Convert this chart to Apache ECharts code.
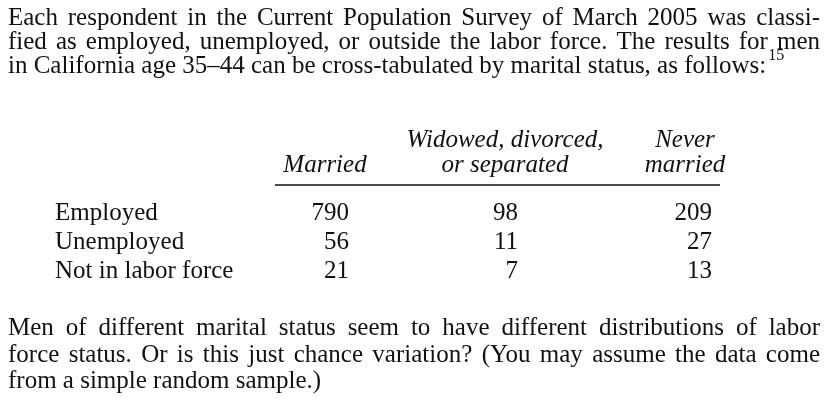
<!DOCTYPE html>
<html>
<head>
<meta charset="utf-8">
<script src="https://cdn.jsdelivr.net/npm/echarts@6/dist/echarts.min.js"></script>
<style>html,body{margin:0;padding:0;background:#fff}#main{width:830px;height:414px}</style>
</head>
<body>
<div id="main"></div>
<script>
var introLines = [
  'Each respondent in the Current Population Survey of March 2005 was classi-',
  'fied as employed, unemployed, or outside the labor force. The results for men',
  'in California age 35\u201344 can be cross-tabulated by marital status, as follows:'
];
var footnote = '15';
var colHeaders = [['Married'], ['Widowed, divorced,', 'or separated'], ['Never', 'married']];
var rowLabels = ['Employed', 'Unemployed', 'Not in labor force'];
var married = [790, 56, 21];
var widowed = [98, 11, 7];
var never = [209, 27, 13];
var outroLines = [
  'Men of different marital status seem to have different distributions of labor',
  'force status. Or is this just chance variation? (You may assume the data come',
  'from a simple random sample.)'
];

var chart = echarts.init(document.getElementById('main'));
var font = '"Liberation Serif", "DejaVu Serif", serif';
var fs = 25;
var elements = [];

function textEl(str, x, y, align, italic, size) {
  return {
    type: 'text', x: x, y: y,
    style: {
      text: str, fill: '#111', font: (italic ? 'italic ' : '') + (size || fs) + 'px ' + font,
      textAlign: align || 'left', textVerticalAlign: 'middle'
    }
  };
}

// measure to justify full lines
var ctx = document.createElement('canvas').getContext('2d');
function justified(str, y, left, right) {
  ctx.font = fs + 'px ' + font;
  var w = ctx.measureText(str).width;
  var words = str.split(' ');
  var gaps = words.length - 1;
  var extra = Math.max(0, (right - left - w) / gaps);
  var space = ctx.measureText(' ').width;
  var x = left;
  words.forEach(function (wd) {
    elements.push(textEl(wd, x, y));
    x += ctx.measureText(wd).width + space + extra;
  });
}

var introY = [18, 42, 66];
justified(introLines[0], introY[0], 8, 820);
justified(introLines[1], introY[1], 8, 820);
ctx.font = fs + 'px ' + font;
elements.push(textEl(introLines[2], 8, introY[2]));
elements.push(textEl(footnote, 8 + ctx.measureText(introLines[2]).width + 2, introY[2] - 10, 'left', false, 16));

// table headers
var headCenters = [325, 505, 685];
colHeaders.forEach(function (h, i) {
  var ys = h.length === 1 ? [165] : [140, 165];
  h.forEach(function (t, j) { elements.push(textEl(t, headCenters[i], ys[j], 'center', true)); });
});
elements.push({ type: 'line', shape: { x1: 275, y1: 185, x2: 720, y2: 185 }, style: { stroke: '#111', lineWidth: 1.5 } });

var rowY = [213, 242, 271];
var colRight = [349, 518, 712];
var cols = [married, widowed, never];
rowLabels.forEach(function (lab, r) {
  elements.push(textEl(lab, 55, rowY[r]));
  cols.forEach(function (c, i) { elements.push(textEl(String(c[r]), colRight[i], rowY[r], 'right')); });
});

var outroY = [328, 355, 381];
justified(outroLines[0], outroY[0], 8, 820);
justified(outroLines[1], outroY[1], 8, 820);
elements.push(textEl(outroLines[2], 8, outroY[2]));

chart.setOption({ animation: false, graphic: { elements: elements } });
</script>
</body>
</html>
